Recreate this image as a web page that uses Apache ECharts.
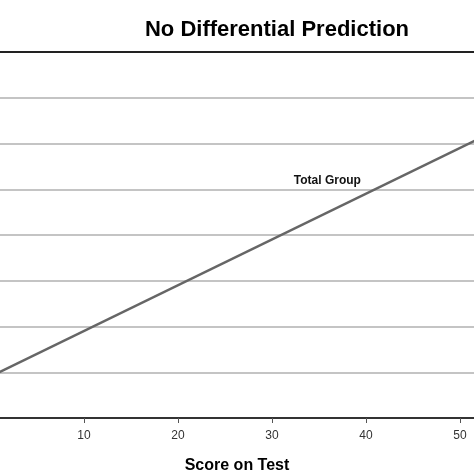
<!DOCTYPE html>
<html>
<head>
<meta charset="utf-8">
<script src="https://cdn.jsdelivr.net/npm/echarts@6/dist/echarts.min.js"></script>
<style>html,body{margin:0;padding:0;background:#fff}#c{width:474px;height:474px}</style>
</head>
<body>
<div id="c"></div>
<script>
// regression line for the total group (score on test -> criterion)
const lineScores = [0, 60];
const lineCriterion = [9, 69];
const xTicks = [10, 20, 30, 40, 50];
const labelPoint = [35.9, 51.8];
const labelText = 'Total Group';

const chart = echarts.init(document.getElementById('c'));

const option = {
  animation: false,
  title: {
    text: 'No Differential Prediction',
    left: 272,
    top: 14,
    textAlign: 'center',
    textStyle: {fontFamily: 'Liberation Sans', fontSize: 22, fontWeight: 'bold', color: '#000'}
  },
  grid: {left: 0, right: 0, top: 52, bottom: 56, outerBoundsMode: 'none'},
  xAxis: [{
    type: 'value',
    min: 1.06,
    max: 51.5,
    name: 'Score on Test',
    nameLocation: 'middle',
    nameGap: 40,
    nameTextStyle: {fontFamily: 'Liberation Sans', fontSize: 16, fontWeight: 'bold', color: '#000'},
    axisLine: {lineStyle: {color: '#333', width: 2}},
    axisTick: {show: true, length: 5, customValues: xTicks, lineStyle: {color: '#555'}},
    axisLabel: {fontFamily: 'Liberation Sans', fontSize: 12, color: '#333', margin: 12, customValues: xTicks},
    splitLine: {show: false}
  }, {
    type: 'value',
    position: 'top',
    min: 1.06,
    max: 51.5,
    axisLine: {show: true, lineStyle: {color: '#222', width: 2}},
    axisTick: {show: false},
    axisLabel: {show: false},
    splitLine: {show: false}
  }],
  yAxis: {
    type: 'value',
    min: 0,
    max: 80,
    interval: 10,
    axisLine: {show: false},
    axisTick: {show: false},
    axisLabel: {show: false},
    splitLine: {lineStyle: {color: '#b0b0b0', width: 1.5}}
  },
  series: [{
    type: 'line',
    data: lineScores.map((x, i) => [x, lineCriterion[i]]),
    symbol: 'none',
    clip: true,
    lineStyle: {color: '#666', width: 2.5},
    markPoint: {
      symbol: 'circle',
      symbolSize: 0,
      data: [{coord: labelPoint}],
      label: {
        show: true,
        position: 'inside',
        formatter: labelText,
        fontFamily: 'Liberation Sans',
        fontSize: 12,
        fontWeight: 'bold',
        color: '#111'
      }
    }
  }]
};

chart.setOption(option);
</script>
</body>
</html>
